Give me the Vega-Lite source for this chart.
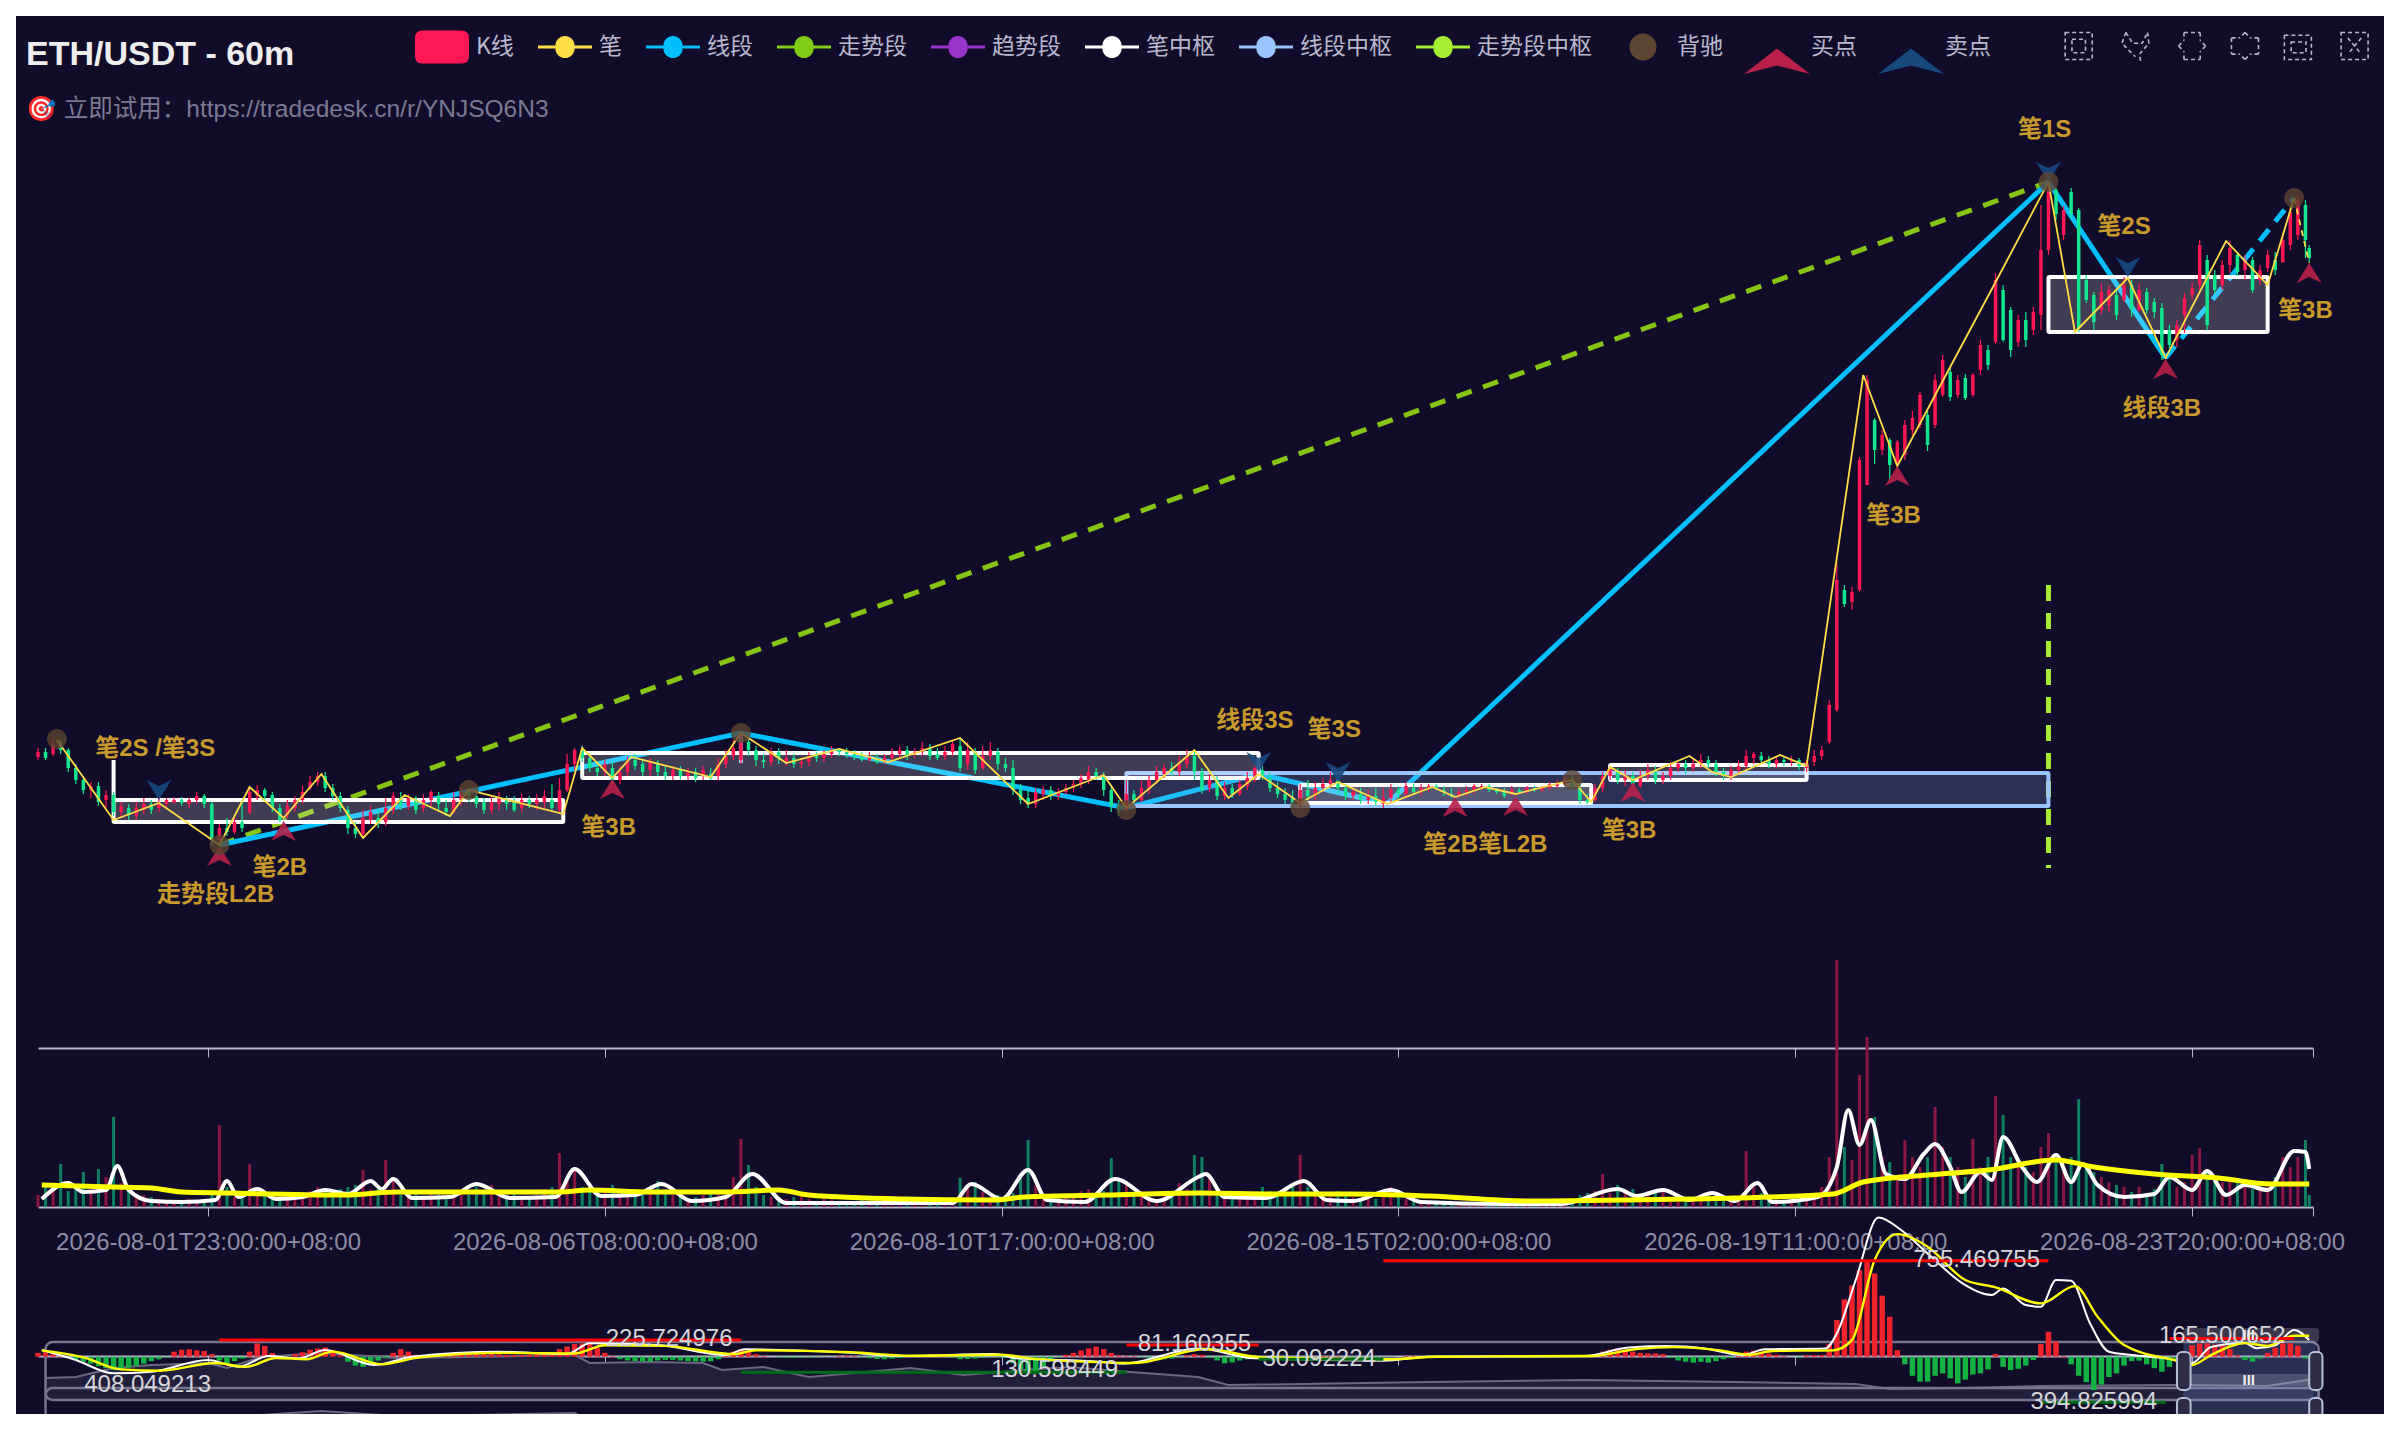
{"$schema":"https://vega.github.io/schema/vega-lite/v6.json","width":2368,"height":1398,"padding":{"left":16,"top":16,"right":16,"bottom":26},"autosize":{"type":"none"},"background":"#ffffff","view":{"fill":"#100c2a","stroke":null},"title":{"text":"ETH/USDT - 60m","subtitle":"🎯 立即试用：https://tradedesk.cn/r/YNJSQ6N3","anchor":"start","frame":"group","orient":"top","offset":-105,"dx":10,"color":"#eeeeee","fontSize":34,"fontWeight":"bold","font":"Liberation Sans","subtitleColor":"#7c7a92","subtitleFontSize":24.5,"subtitleFont":"Liberation Sans,Noto Sans CJK SC","subtitlePadding":26},
"datasets":{
"bars":[{"i":0,"o":683,"c":688,"h":692,"l":680,"v":12,"m":30},{"i":2,"o":688,"c":682,"h":692,"l":680,"v":20,"m":35},{"i":4,"o":686,"c":695,"h":701,"l":684,"v":18,"m":20},{"i":6,"o":697,"c":690,"h":701,"l":686,"v":43,"m":5},{"i":8,"o":690,"c":672,"h":692,"l":668,"v":16,"m":-10},{"i":10,"o":672,"c":660,"h":676,"l":656,"v":22,"m":-25},{"i":12,"o":660,"c":650,"h":664,"l":646,"v":35,"m":-40},{"i":14,"o":650,"c":654,"h":658,"l":642,"v":14,"m":-55},{"i":16,"o":654,"c":638,"h":658,"l":634,"v":38,"m":-75},{"i":18,"o":640,"c":645,"h":650,"l":632,"v":30,"m":-90},{"i":20,"o":645,"c":628,"h":648,"l":624,"v":90,"m":-105},{"i":22,"o":628,"c":634,"h":638,"l":622,"v":24,"m":-100},{"i":24,"o":632,"c":625,"h":636,"l":620,"v":18,"m":-85},{"i":26,"o":624,"c":632,"h":638,"l":620,"v":10,"m":-70},{"i":28,"o":630,"c":636,"h":642,"l":626,"v":12,"m":-55},{"i":30,"o":636,"c":630,"h":640,"l":626,"v":10,"m":-35},{"i":32,"o":632,"c":638,"h":644,"l":628,"v":8,"m":-20},{"i":34,"o":636,"c":640,"h":642,"l":632,"v":6,"m":-5},{"i":36,"o":638,"c":640,"h":643,"l":636,"v":7,"m":40},{"i":38,"o":640,"c":637,"h":643,"l":634,"v":6,"m":55},{"i":40,"o":636,"c":640,"h":642,"l":632,"v":8,"m":58},{"i":42,"o":640,"c":644,"h":648,"l":636,"v":7,"m":50},{"i":44,"o":644,"c":636,"h":646,"l":632,"v":8,"m":45},{"i":46,"o":636,"c":600,"h":638,"l":595,"v":12,"m":20},{"i":48,"o":600,"c":612,"h":616,"l":595,"v":82,"m":-30},{"i":50,"o":612,"c":608,"h":622,"l":604,"v":20,"m":-52},{"i":52,"o":608,"c":618,"h":624,"l":606,"v":10,"m":-35},{"i":54,"o":618,"c":612,"h":640,"l":608,"v":12,"m":-15},{"i":56,"o":628,"c":648,"h":653,"l":626,"v":43,"m":40},{"i":58,"o":644,"c":650,"h":655,"l":640,"v":20,"m":105},{"i":60,"o":650,"c":644,"h":652,"l":640,"v":14,"m":85},{"i":62,"o":645,"c":632,"h":648,"l":628,"v":12,"m":30},{"i":64,"o":632,"c":620,"h":636,"l":618,"v":8,"m":-10},{"i":66,"o":625,"c":634,"h":640,"l":622,"v":10,"m":-5},{"i":68,"o":632,"c":640,"h":644,"l":628,"v":14,"m":20},{"i":70,"o":640,"c":648,"h":654,"l":636,"v":8,"m":35},{"i":72,"o":652,"c":658,"h":664,"l":650,"v":16,"m":55},{"i":74,"o":658,"c":664,"h":668,"l":654,"v":20,"m":65},{"i":76,"o":664,"c":652,"h":668,"l":648,"v":16,"m":73},{"i":78,"o":652,"c":644,"h":656,"l":640,"v":14,"m":50},{"i":80,"o":644,"c":632,"h":648,"l":628,"v":18,"m":10},{"i":82,"o":630,"c":612,"h":634,"l":606,"v":20,"m":-40},{"i":84,"o":612,"c":606,"h":618,"l":602,"v":22,"m":-70},{"i":86,"o":606,"c":622,"h":630,"l":602,"v":37,"m":-79},{"i":88,"o":620,"c":628,"h":634,"l":616,"v":18,"m":-60},{"i":90,"o":622,"c":616,"h":630,"l":612,"v":20,"m":-30},{"i":92,"o":618,"c":632,"h":642,"l":614,"v":47,"m":-10},{"i":94,"o":630,"c":644,"h":648,"l":626,"v":30,"m":30},{"i":96,"o":642,"c":634,"h":648,"l":630,"v":12,"m":60},{"i":98,"o":634,"c":642,"h":646,"l":630,"v":14,"m":40},{"i":100,"o":640,"c":630,"h":644,"l":626,"v":16,"m":15},{"i":102,"o":632,"c":640,"h":646,"l":628,"v":10,"m":5},{"i":104,"o":640,"c":648,"h":650,"l":634,"v":14,"m":10},{"i":106,"o":644,"c":636,"h":648,"l":630,"v":12,"m":15},{"i":108,"o":632,"c":628,"h":640,"l":624,"v":10,"m":20},{"i":110,"o":628,"c":640,"h":648,"l":626,"v":14,"m":18},{"i":112,"o":640,"c":648,"h":652,"l":634,"v":18,"m":20},{"i":114,"o":648,"c":644,"h":652,"l":638,"v":12,"m":24},{"i":116,"o":644,"c":636,"h":650,"l":632,"v":20,"m":26},{"i":118,"o":638,"c":630,"h":642,"l":626,"v":16,"m":26},{"i":120,"o":630,"c":638,"h":644,"l":626,"v":22,"m":25},{"i":122,"o":636,"c":642,"h":648,"l":630,"v":10,"m":18},{"i":124,"o":640,"c":636,"h":644,"l":630,"v":12,"m":15},{"i":126,"o":638,"c":630,"h":644,"l":628,"v":14,"m":12},{"i":128,"o":632,"c":640,"h":646,"l":628,"v":8,"m":12},{"i":130,"o":640,"c":636,"h":644,"l":632,"v":10,"m":15},{"i":132,"o":636,"c":640,"h":646,"l":630,"v":12,"m":18},{"i":134,"o":638,"c":644,"h":650,"l":632,"v":18,"m":20},{"i":136,"o":640,"c":632,"h":656,"l":630,"v":20,"m":15},{"i":138,"o":630,"c":650,"h":662,"l":626,"v":54,"m":60},{"i":140,"o":650,"c":676,"h":686,"l":648,"v":28,"m":80},{"i":142,"o":676,"c":690,"h":692,"l":670,"v":40,"m":100},{"i":144,"o":690,"c":682,"h":694,"l":678,"v":20,"m":105},{"i":146,"o":682,"c":672,"h":686,"l":668,"v":24,"m":105},{"i":148,"o":672,"c":668,"h":678,"l":664,"v":18,"m":70},{"i":150,"o":668,"c":676,"h":680,"l":664,"v":16,"m":30},{"i":152,"o":672,"c":660,"h":678,"l":656,"v":22,"m":5},{"i":154,"o":660,"c":668,"h":674,"l":656,"v":10,"m":-20},{"i":156,"o":668,"c":680,"h":684,"l":664,"v":14,"m":-30},{"i":158,"o":680,"c":674,"h":686,"l":670,"v":18,"m":-35},{"i":160,"o":676,"c":668,"h":680,"l":664,"v":12,"m":-38},{"i":162,"o":670,"c":678,"h":682,"l":664,"v":14,"m":-39},{"i":164,"o":676,"c":668,"h":680,"l":664,"v":26,"m":-30},{"i":166,"o":668,"c":664,"h":674,"l":660,"v":18,"m":-25},{"i":168,"o":664,"c":670,"h":674,"l":660,"v":12,"m":-25},{"i":170,"o":670,"c":664,"h":674,"l":660,"v":10,"m":-30},{"i":172,"o":664,"c":668,"h":672,"l":660,"v":8,"m":-35},{"i":174,"o":668,"c":662,"h":672,"l":658,"v":10,"m":-38},{"i":176,"o":664,"c":670,"h":674,"l":660,"v":12,"m":-39},{"i":178,"o":666,"c":662,"h":672,"l":660,"v":14,"m":-36},{"i":180,"o":664,"c":676,"h":682,"l":660,"v":16,"m":-20},{"i":182,"o":676,"c":684,"h":690,"l":672,"v":14,"m":15},{"i":184,"o":684,"c":692,"h":700,"l":680,"v":30,"m":40},{"i":186,"o":680,"c":698,"h":707,"l":676,"v":68,"m":58},{"i":188,"o":698,"c":690,"h":702,"l":684,"v":42,"m":50},{"i":190,"o":690,"c":680,"h":694,"l":674,"v":20,"m":20},{"i":192,"o":680,"c":678,"h":686,"l":672,"v":12,"m":5},{"i":194,"o":678,"c":688,"h":692,"l":674,"v":10,"m":0},{"i":196,"o":688,"c":682,"h":692,"l":676,"v":10,"m":-5},{"i":198,"o":678,"c":682,"h":690,"l":674,"v":8,"m":-8},{"i":200,"o":682,"c":676,"h":686,"l":672,"v":10,"m":-10},{"i":202,"o":676,"c":678,"h":682,"l":672,"v":12,"m":-8},{"i":204,"o":678,"c":684,"h":688,"l":674,"v":8,"m":-6},{"i":206,"o":684,"c":682,"h":688,"l":678,"v":6,"m":-5},{"i":208,"o":682,"c":686,"h":690,"l":678,"v":8,"m":-3},{"i":210,"o":686,"c":690,"h":694,"l":682,"v":8,"m":-2},{"i":212,"o":690,"c":688,"h":692,"l":684,"v":6,"m":5},{"i":214,"o":688,"c":686,"h":692,"l":682,"v":6,"m":8},{"i":216,"o":686,"c":684,"h":690,"l":680,"v":6,"m":5},{"i":218,"o":684,"c":680,"h":688,"l":678,"v":8,"m":-5},{"i":220,"o":680,"c":684,"h":688,"l":678,"v":6,"m":-12},{"i":222,"o":682,"c":678,"h":686,"l":676,"v":6,"m":-18},{"i":224,"o":678,"c":682,"h":686,"l":676,"v":6,"m":-20},{"i":226,"o":682,"c":686,"h":692,"l":678,"v":8,"m":-15},{"i":228,"o":686,"c":690,"h":694,"l":682,"v":8,"m":-10},{"i":230,"o":690,"c":684,"h":694,"l":680,"v":10,"m":5},{"i":232,"o":686,"c":688,"h":692,"l":682,"v":6,"m":10},{"i":234,"o":688,"c":692,"h":698,"l":684,"v":8,"m":12},{"i":236,"o":692,"c":684,"h":696,"l":680,"v":6,"m":10},{"i":238,"o":686,"c":682,"h":692,"l":680,"v":8,"m":8},{"i":240,"o":684,"c":688,"h":694,"l":680,"v":8,"m":5},{"i":242,"o":688,"c":696,"h":700,"l":684,"v":10,"m":-5},{"i":244,"o":694,"c":672,"h":702,"l":668,"v":29,"m":-20},{"i":246,"o":676,"c":690,"h":698,"l":670,"v":20,"m":-18},{"i":248,"o":688,"c":670,"h":692,"l":666,"v":25,"m":-15},{"i":250,"o":672,"c":684,"h":694,"l":670,"v":15,"m":-8},{"i":252,"o":684,"c":690,"h":698,"l":680,"v":10,"m":-5},{"i":254,"o":688,"c":676,"h":692,"l":670,"v":12,"m":-5},{"i":256,"o":676,"c":672,"h":682,"l":668,"v":10,"m":-10},{"i":258,"o":672,"c":650,"h":680,"l":645,"v":14,"m":-50},{"i":260,"o":650,"c":640,"h":656,"l":636,"v":30,"m":-100},{"i":262,"o":642,"c":636,"h":650,"l":632,"v":67,"m":-131},{"i":264,"o":636,"c":648,"h":652,"l":632,"v":22,"m":-120},{"i":266,"o":646,"c":650,"h":654,"l":640,"v":12,"m":-80},{"i":268,"o":650,"c":644,"h":654,"l":640,"v":8,"m":-40},{"i":270,"o":644,"c":648,"h":652,"l":640,"v":10,"m":-5},{"i":272,"o":648,"c":652,"h":656,"l":646,"v":14,"m":15},{"i":274,"o":652,"c":656,"h":660,"l":648,"v":12,"m":30},{"i":276,"o":656,"c":662,"h":666,"l":652,"v":16,"m":50},{"i":278,"o":660,"c":668,"h":674,"l":656,"v":18,"m":65},{"i":280,"o":668,"c":664,"h":672,"l":660,"v":14,"m":79},{"i":282,"o":664,"c":650,"h":668,"l":644,"v":16,"m":60},{"i":284,"o":650,"c":634,"h":654,"l":628,"v":49,"m":30},{"i":286,"o":634,"c":630,"h":640,"l":624,"v":28,"m":10},{"i":288,"o":630,"c":646,"h":660,"l":628,"v":24,"m":5},{"i":290,"o":646,"c":640,"h":650,"l":636,"v":14,"m":5},{"i":292,"o":640,"c":652,"h":660,"l":638,"v":16,"m":-5},{"i":294,"o":650,"c":660,"h":664,"l":646,"v":10,"m":-10},{"i":296,"o":660,"c":668,"h":674,"l":656,"v":8,"m":-15},{"i":298,"o":666,"c":672,"h":676,"l":662,"v":12,"m":-20},{"i":300,"o":672,"c":668,"h":678,"l":664,"v":14,"m":-15},{"i":302,"o":668,"c":676,"h":684,"l":664,"v":24,"m":-5},{"i":304,"o":676,"c":684,"h":690,"l":672,"v":18,"m":10},{"i":306,"o":684,"c":668,"h":690,"l":660,"v":52,"m":20},{"i":308,"o":668,"c":650,"h":672,"l":646,"v":50,"m":15},{"i":310,"o":652,"c":660,"h":666,"l":648,"v":30,"m":-10},{"i":312,"o":660,"c":644,"h":664,"l":640,"v":14,"m":-30},{"i":314,"o":644,"c":652,"h":658,"l":640,"v":10,"m":-52},{"i":316,"o":652,"c":646,"h":656,"l":642,"v":8,"m":-45},{"i":318,"o":646,"c":656,"h":660,"l":644,"v":10,"m":-30},{"i":320,"o":654,"c":662,"h":668,"l":650,"v":12,"m":-20},{"i":322,"o":662,"c":672,"h":676,"l":658,"v":14,"m":-10},{"i":324,"o":670,"c":664,"h":674,"l":660,"v":20,"m":-8},{"i":326,"o":662,"c":652,"h":668,"l":648,"v":16,"m":-8},{"i":328,"o":652,"c":646,"h":658,"l":642,"v":14,"m":-8},{"i":330,"o":646,"c":640,"h":652,"l":636,"v":12,"m":-6},{"i":332,"o":642,"c":636,"h":650,"l":632,"v":20,"m":-3},{"i":334,"o":636,"c":650,"h":656,"l":632,"v":52,"m":-3},{"i":336,"o":650,"c":644,"h":660,"l":640,"v":20,"m":-2},{"i":338,"o":644,"c":652,"h":658,"l":640,"v":12,"m":0},{"i":340,"o":652,"c":656,"h":662,"l":648,"v":10,"m":5},{"i":342,"o":656,"c":660,"h":668,"l":652,"v":10,"m":5},{"i":344,"o":660,"c":652,"h":664,"l":646,"v":16,"m":3},{"i":346,"o":652,"c":644,"h":656,"l":640,"v":12,"m":-5},{"i":348,"o":644,"c":648,"h":652,"l":640,"v":10,"m":-8},{"i":350,"o":646,"c":640,"h":652,"l":636,"v":8,"m":-8},{"i":352,"o":640,"c":644,"h":650,"l":636,"v":10,"m":-8},{"i":354,"o":644,"c":638,"h":652,"l":634,"v":8,"m":-6},{"i":356,"o":636,"c":642,"h":652,"l":632,"v":14,"m":-4},{"i":358,"o":642,"c":650,"h":656,"l":638,"v":20,"m":-3},{"i":360,"o":650,"c":646,"h":654,"l":642,"v":12,"m":0},{"i":362,"o":646,"c":654,"h":658,"l":642,"v":8,"m":5},{"i":364,"o":652,"c":648,"h":656,"l":646,"v":8,"m":6},{"i":366,"o":648,"c":652,"h":656,"l":644,"v":6,"m":6},{"i":368,"o":652,"c":654,"h":656,"l":648,"v":4,"m":5},{"i":370,"o":654,"c":652,"h":656,"l":650,"v":4,"m":4},{"i":372,"o":650,"c":648,"h":654,"l":644,"v":4,"m":4},{"i":374,"o":646,"c":644,"h":652,"l":642,"v":6,"m":3},{"i":376,"o":644,"c":648,"h":652,"l":642,"v":4,"m":3},{"i":378,"o":648,"c":650,"h":654,"l":644,"v":4,"m":2},{"i":380,"o":650,"c":654,"h":656,"l":646,"v":4,"m":2},{"i":382,"o":652,"c":654,"h":656,"l":650,"v":6,"m":2},{"i":384,"o":654,"c":650,"h":656,"l":648,"v":4,"m":-2},{"i":386,"o":650,"c":648,"h":652,"l":646,"v":4,"m":-3},{"i":388,"o":648,"c":644,"h":652,"l":642,"v":6,"m":-3},{"i":390,"o":646,"c":650,"h":654,"l":644,"v":4,"m":-3},{"i":392,"o":650,"c":648,"h":652,"l":646,"v":4,"m":-3},{"i":394,"o":648,"c":652,"h":654,"l":646,"v":4,"m":-2},{"i":396,"o":652,"c":650,"h":654,"l":648,"v":6,"m":0},{"i":398,"o":650,"c":652,"h":654,"l":648,"v":4,"m":2},{"i":400,"o":652,"c":656,"h":658,"l":650,"v":6,"m":5},{"i":402,"o":654,"c":656,"h":660,"l":652,"v":4,"m":8},{"i":404,"o":656,"c":660,"h":664,"l":654,"v":6,"m":10},{"i":406,"o":660,"c":652,"h":664,"l":650,"v":8,"m":8},{"i":408,"o":652,"c":640,"h":656,"l":636,"v":12,"m":5},{"i":410,"o":640,"c":638,"h":646,"l":636,"v":14,"m":5},{"i":412,"o":640,"c":652,"h":656,"l":638,"v":16,"m":20},{"i":414,"o":652,"c":664,"h":668,"l":648,"v":33,"m":40},{"i":416,"o":664,"c":672,"h":674,"l":660,"v":14,"m":55},{"i":418,"o":668,"c":660,"h":672,"l":656,"v":22,"m":65},{"i":420,"o":660,"c":664,"h":670,"l":654,"v":16,"m":50},{"i":422,"o":664,"c":656,"h":668,"l":652,"v":18,"m":40},{"i":424,"o":654,"c":664,"h":670,"l":652,"v":10,"m":30},{"i":426,"o":664,"c":670,"h":676,"l":660,"v":16,"m":26},{"i":428,"o":668,"c":660,"h":674,"l":656,"v":14,"m":26},{"i":430,"o":660,"c":664,"h":668,"l":656,"v":18,"m":20},{"i":432,"o":664,"c":672,"h":678,"l":660,"v":10,"m":-10},{"i":434,"o":672,"c":676,"h":680,"l":668,"v":12,"m":-30},{"i":436,"o":676,"c":672,"h":680,"l":666,"v":8,"m":-40},{"i":438,"o":672,"c":676,"h":682,"l":668,"v":8,"m":-47},{"i":440,"o":676,"c":680,"h":686,"l":672,"v":10,"m":-40},{"i":442,"o":680,"c":676,"h":684,"l":672,"v":14,"m":-47},{"i":444,"o":676,"c":668,"h":680,"l":664,"v":12,"m":-35},{"i":446,"o":668,"c":664,"h":672,"l":660,"v":8,"m":-20},{"i":448,"o":664,"c":670,"h":674,"l":660,"v":8,"m":-10},{"i":450,"o":670,"c":674,"h":680,"l":666,"v":8,"m":10},{"i":452,"o":674,"c":684,"h":690,"l":670,"v":56,"m":40},{"i":454,"o":682,"c":686,"h":688,"l":676,"v":20,"m":47},{"i":456,"o":684,"c":680,"h":688,"l":676,"v":14,"m":40},{"i":458,"o":680,"c":676,"h":684,"l":672,"v":8,"m":25},{"i":460,"o":676,"c":680,"h":684,"l":672,"v":6,"m":15},{"i":462,"o":680,"c":678,"h":684,"l":674,"v":6,"m":5},{"i":464,"o":678,"c":680,"h":684,"l":674,"v":8,"m":0},{"i":466,"o":680,"c":674,"h":682,"l":670,"v":8,"m":-8},{"i":468,"o":672,"c":678,"h":680,"l":668,"v":12,"m":10},{"i":470,"o":678,"c":684,"h":690,"l":674,"v":14,"m":13},{"i":472,"o":684,"c":690,"h":694,"l":680,"v":20,"m":13},{"i":474,"o":698,"c":735,"h":740,"l":696,"v":50,"m":100},{"i":476,"o":730,"c":860,"h":878,"l":728,"v":247,"m":288},{"i":478,"o":850,"c":836,"h":855,"l":833,"v":60,"m":450},{"i":480,"o":838,"c":848,"h":853,"l":830,"v":47,"m":560},{"i":482,"o":850,"c":980,"h":983,"l":848,"v":132,"m":680},{"i":484,"o":955,"c":1060,"h":1065,"l":955,"v":170,"m":760},{"i":486,"o":1020,"c":990,"h":1022,"l":976,"v":90,"m":655},{"i":488,"o":990,"c":1005,"h":1010,"l":985,"v":50,"m":480},{"i":490,"o":1000,"c":975,"h":1002,"l":961,"v":45,"m":314},{"i":492,"o":978,"c":998,"h":1000,"l":974,"v":30,"m":52},{"i":494,"o":985,"c":1015,"h":1020,"l":980,"v":67,"m":-60},{"i":496,"o":1010,"c":1022,"h":1029,"l":1005,"v":50,"m":-150},{"i":498,"o":1015,"c":1045,"h":1048,"l":1012,"v":40,"m":-196},{"i":500,"o":1025,"c":995,"h":1029,"l":989,"v":50,"m":-196},{"i":502,"o":1015,"c":1060,"h":1066,"l":1012,"v":100,"m":-150},{"i":504,"o":1045,"c":1080,"h":1085,"l":1043,"v":60,"m":-131},{"i":506,"o":1068,"c":1043,"h":1073,"l":1039,"v":50,"m":-170},{"i":508,"o":1045,"c":1060,"h":1065,"l":1042,"v":40,"m":-210},{"i":510,"o":1062,"c":1042,"h":1066,"l":1040,"v":30,"m":-180},{"i":512,"o":1045,"c":1065,"h":1067,"l":1043,"v":68,"m":-140},{"i":514,"o":1070,"c":1095,"h":1100,"l":1065,"v":40,"m":-131},{"i":516,"o":1090,"c":1075,"h":1095,"l":1070,"v":50,"m":-100},{"i":518,"o":1098,"c":1160,"h":1167,"l":1096,"v":111,"m":21},{"i":520,"o":1150,"c":1100,"h":1155,"l":1098,"v":92,"m":-80},{"i":522,"o":1130,"c":1090,"h":1133,"l":1083,"v":50,"m":-105},{"i":524,"o":1098,"c":1120,"h":1125,"l":1093,"v":45,"m":-95},{"i":526,"o":1120,"c":1100,"h":1128,"l":1093,"v":40,"m":-70},{"i":528,"o":1110,"c":1128,"h":1133,"l":1105,"v":35,"m":-26},{"i":530,"o":1125,"c":1190,"h":1235,"l":1110,"v":60,"m":100},{"i":532,"o":1190,"c":1250,"h":1258,"l":1185,"v":74,"m":196},{"i":534,"o":1250,"c":1226,"h":1252,"l":1220,"v":45,"m":120},{"i":536,"o":1205,"c":1230,"h":1234,"l":1200,"v":40,"m":5},{"i":538,"o":1248,"c":1226,"h":1252,"l":1222,"v":50,"m":-60},{"i":540,"o":1230,"c":1112,"h":1232,"l":1108,"v":108,"m":-150},{"i":542,"o":1160,"c":1140,"h":1165,"l":1137,"v":40,"m":-200},{"i":544,"o":1145,"c":1118,"h":1148,"l":1110,"v":35,"m":-262},{"i":546,"o":1130,"c":1148,"h":1157,"l":1126,"v":30,"m":-220},{"i":548,"o":1135,"c":1150,"h":1155,"l":1128,"v":25,"m":-160},{"i":550,"o":1145,"c":1125,"h":1150,"l":1120,"v":22,"m":-131},{"i":552,"o":1140,"c":1155,"h":1163,"l":1138,"v":20,"m":-70},{"i":554,"o":1155,"c":1130,"h":1160,"l":1123,"v":15,"m":-35},{"i":556,"o":1130,"c":1150,"h":1157,"l":1128,"v":20,"m":-31},{"i":558,"o":1148,"c":1130,"h":1152,"l":1126,"v":14,"m":-60},{"i":560,"o":1138,"c":1128,"h":1142,"l":1122,"v":18,"m":-90},{"i":562,"o":1132,"c":1085,"h":1137,"l":1080,"v":43,"m":-118},{"i":564,"o":1110,"c":1095,"h":1115,"l":1092,"v":30,"m":-80},{"i":566,"o":1100,"c":1115,"h":1120,"l":1093,"v":20,"m":-20},{"i":568,"o":1125,"c":1142,"h":1147,"l":1107,"v":25,"m":10},{"i":570,"o":1145,"c":1152,"h":1158,"l":1140,"v":52,"m":90},{"i":572,"o":1155,"c":1195,"h":1200,"l":1150,"v":59,"m":105},{"i":574,"o":1180,"c":1115,"h":1185,"l":1110,"v":35,"m":105},{"i":576,"o":1165,"c":1150,"h":1170,"l":1146,"v":30,"m":95},{"i":578,"o":1155,"c":1175,"h":1180,"l":1150,"v":25,"m":85},{"i":580,"o":1175,"c":1192,"h":1199,"l":1167,"v":30,"m":60},{"i":582,"o":1185,"c":1168,"h":1188,"l":1164,"v":25,"m":10},{"i":584,"o":1170,"c":1180,"h":1185,"l":1160,"v":20,"m":-25},{"i":586,"o":1180,"c":1150,"h":1183,"l":1147,"v":18,"m":-39},{"i":588,"o":1160,"c":1170,"h":1175,"l":1155,"v":20,"m":-15},{"i":590,"o":1172,"c":1185,"h":1190,"l":1168,"v":25,"m":30},{"i":592,"o":1180,"c":1170,"h":1188,"l":1165,"v":30,"m":70},{"i":594,"o":1178,"c":1200,"h":1207,"l":1177,"v":50,"m":105},{"i":596,"o":1195,"c":1228,"h":1232,"l":1190,"v":40,"m":105},{"i":598,"o":1205,"c":1240,"h":1245,"l":1200,"v":50,"m":85},{"i":600,"o":1235,"c":1200,"h":1240,"l":1182,"v":67,"m":-15},{"i":601,"o":1192,"c":1182,"h":1195,"l":1178,"v":12,"m":-10}],
"bi":[{"i":5,"p":700},{"i":20,"p":620},{"i":32,"p":637},{"i":48,"p":595},{"i":56,"p":653},{"i":65,"p":622},{"i":75,"p":666},{"i":86,"p":602},{"i":97,"p":645},{"i":109,"p":624},{"i":114,"p":650},{"i":139,"p":626},{"i":144,"p":692},{"i":152,"p":662},{"i":157,"p":683},{"i":178,"p":663},{"i":186,"p":707},{"i":198,"p":677},{"i":212,"p":691},{"i":225,"p":678},{"i":244,"p":702},{"i":262,"p":636},{"i":282,"p":665},{"i":288,"p":632},{"i":306,"p":690},{"i":315,"p":642},{"i":323,"p":666},{"i":334,"p":637},{"i":344,"p":658},{"i":357,"p":636},{"i":369,"p":653},{"i":375,"p":643},{"i":383,"p":653},{"i":391,"p":646},{"i":406,"p":660},{"i":411,"p":638},{"i":416,"p":673},{"i":422,"p":660},{"i":437,"p":684},{"i":443,"p":668},{"i":448,"p":663},{"i":461,"p":685},{"i":468,"p":674},{"i":483,"p":1065},{"i":492,"p":974},{"i":519,"p":1165},{"i":532,"p":1258},{"i":539,"p":1108},{"i":553,"p":1162},{"i":563,"p":1082},{"i":579,"p":1199},{"i":590,"p":1155},{"i":597,"p":1242}],
"biEnd":[{"i":597,"p":1242},{"i":601,"p":1177}],
"seg":[{"i":48,"p":595},{"i":186,"p":707},{"i":288,"p":632},{"i":323,"p":666},{"i":357,"p":636},{"i":532,"p":1258},{"i":563,"p":1082}],
"segEnd":[{"i":563,"p":1082},{"i":597,"p":1242}],
"trend":[{"i":48,"p":595},{"i":532,"p":1258}],
"trendHub":[{"i":532,"p":855},{"i":532,"p":572}],
"biHub":[{"i":20,"j":139,"p0":618,"p1":640},{"i":20,"j":20,"p0":640,"p1":680},{"i":144,"j":323,"p0":662,"p1":687},{"i":334,"j":411,"p0":637,"p1":655},{"i":416,"j":468,"p0":660,"p1":675},{"i":532,"j":590,"p0":1108,"p1":1163}],
"segHub":[{"i":288,"j":532,"p0":634,"p1":667},{"i":186,"j":186,"p0":677,"p1":707},{"i":323,"j":323,"p0":668,"p1":685}],
"div":[{"i":5,"p":701,"series":"背驰"},{"i":48,"p":595,"series":"背驰"},{"i":114,"p":650,"series":"背驰"},{"i":186,"p":707,"series":"背驰"},{"i":288,"p":630,"series":"背驰"},{"i":334,"p":632,"series":"背驰"},{"i":406,"p":660,"series":"背驰"},{"i":532,"p":1258,"series":"背驰"},{"i":597,"p":1242,"series":"背驰"}],
"buy":[{"i":48,"p":594},{"i":65,"p":619},{"i":152,"p":661},{"i":375,"p":643},{"i":391,"p":644},{"i":422,"p":658},{"i":492,"p":974},{"i":563,"p":1081},{"i":601,"p":1177}],
"sell":[{"i":32,"p":640},{"i":323,"p":668},{"i":344,"p":658},{"i":532,"p":1258},{"i":553,"p":1163}],
"marks":[{"i":31,"p":691,"t":"笔2S /笔3S"},{"i":64,"p":572,"t":"笔2B"},{"i":47,"p":545,"t":"走势段L2B"},{"i":151,"p":612,"t":"笔3B"},{"i":322,"p":719,"t":"线段3S"},{"i":343,"p":710,"t":"笔3S"},{"i":383,"p":595,"t":"笔2B笔L2B"},{"i":421,"p":609,"t":"笔3B"},{"i":491,"p":924,"t":"笔3B"},{"i":531,"p":1310,"t":"笔1S"},{"i":552,"p":1213,"t":"笔2S"},{"i":562,"p":1031,"t":"线段3B"},{"i":600,"p":1129,"t":"笔3B"}],
"tools":[{"i":540,"p":1394,"tool":"区域缩放"},{"i":555,"p":1394,"tool":"套索"},{"i":570,"p":1394,"tool":"横向选择"},{"i":584,"p":1394,"tool":"纵向选择"},{"i":598,"p":1394,"tool":"保持选择"},{"i":613,"p":1394,"tool":"清除"}],
"ma5":[{"i":1,"a":8},{"i":8,"a":24},{"i":12,"a":15},{"i":18,"a":17},{"i":21,"a":41},{"i":24,"a":17},{"i":30,"a":6},{"i":38,"a":5},{"i":47,"a":7},{"i":50,"a":26},{"i":53,"a":10},{"i":58,"a":18},{"i":63,"a":8},{"i":70,"a":10},{"i":76,"a":17},{"i":82,"a":13},{"i":88,"a":26},{"i":91,"a":18},{"i":94,"a":28},{"i":99,"a":9},{"i":109,"a":10},{"i":116,"a":23},{"i":125,"a":9},{"i":137,"a":10},{"i":142,"a":38},{"i":149,"a":11},{"i":158,"a":12},{"i":165,"a":23},{"i":173,"a":6},{"i":182,"a":10},{"i":189,"a":33},{"i":198,"a":4},{"i":213,"a":4},{"i":229,"a":4},{"i":242,"a":4},{"i":247,"a":23},{"i":255,"a":8},{"i":262,"a":37},{"i":267,"a":7},{"i":277,"a":5},{"i":285,"a":28},{"i":296,"a":6},{"i":307,"a":30},{"i":309,"a":33},{"i":314,"a":10},{"i":325,"a":9},{"i":335,"a":26},{"i":341,"a":7},{"i":348,"a":6},{"i":358,"a":17},{"i":366,"a":5},{"i":388,"a":3},{"i":403,"a":3},{"i":418,"a":18},{"i":423,"a":11},{"i":430,"a":17},{"i":437,"a":7},{"i":443,"a":14},{"i":449,"a":6},{"i":455,"a":24},{"i":459,"a":5},{"i":471,"a":10},{"i":476,"a":40},{"i":479,"a":97},{"i":482,"a":62},{"i":485,"a":87},{"i":489,"a":33},{"i":494,"a":28},{"i":499,"a":53},{"i":502,"a":63},{"i":506,"a":40},{"i":509,"a":15},{"i":514,"a":35},{"i":517,"a":27},{"i":520,"a":70},{"i":525,"a":40},{"i":529,"a":25},{"i":534,"a":52},{"i":538,"a":25},{"i":541,"a":43},{"i":545,"a":22},{"i":552,"a":10},{"i":560,"a":13},{"i":564,"a":30},{"i":570,"a":17},{"i":574,"a":36},{"i":579,"a":12},{"i":584,"a":22},{"i":590,"a":17},{"i":597,"a":56},{"i":600,"a":55},{"i":601,"a":38}],
"ma60":[{"i":1,"b":22},{"i":20,"b":20},{"i":30,"b":19},{"i":38,"b":15},{"i":50,"b":14},{"i":81,"b":12},{"i":95,"b":15},{"i":120,"b":15},{"i":138,"b":15},{"i":146,"b":17},{"i":162,"b":15},{"i":182,"b":15},{"i":196,"b":17},{"i":204,"b":12},{"i":229,"b":8},{"i":253,"b":7},{"i":261,"b":10},{"i":283,"b":12},{"i":307,"b":14},{"i":328,"b":13},{"i":348,"b":13},{"i":368,"b":11},{"i":394,"b":6},{"i":419,"b":7},{"i":449,"b":9},{"i":475,"b":13},{"i":483,"b":25},{"i":500,"b":32},{"i":516,"b":37},{"i":534,"b":47},{"i":544,"b":40},{"i":560,"b":33},{"i":577,"b":29},{"i":591,"b":23},{"i":601,"b":23}],
"dif":[{"i":1,"d":52},{"i":10,"d":-26},{"i":20,"d":-131},{"i":30,"d":-118},{"i":45,"d":-26},{"i":53,"d":-79},{"i":61,"d":5},{"i":69,"d":-13},{"i":76,"d":52},{"i":89,"d":-65},{"i":99,"d":0},{"i":122,"d":39},{"i":140,"d":21},{"i":146,"d":105},{"i":164,"d":92},{"i":182,"d":13},{"i":187,"d":58},{"i":213,"d":34},{"i":229,"d":5},{"i":253,"d":21},{"i":259,"d":-13},{"i":281,"d":-39},{"i":287,"d":-55},{"i":307,"d":65},{"i":322,"d":-13},{"i":356,"d":-31},{"i":368,"d":0},{"i":409,"d":5},{"i":421,"d":73},{"i":431,"d":84},{"i":441,"d":65},{"i":451,"d":13},{"i":457,"d":58},{"i":473,"d":65},{"i":476,"d":183},{"i":481,"d":603},{"i":487,"d":1095},{"i":493,"d":996},{"i":500,"d":812},{"i":510,"d":563},{"i":517,"d":485},{"i":520,"d":537},{"i":526,"d":406},{"i":530,"d":393},{"i":534,"d":603},{"i":538,"d":597},{"i":543,"d":262},{"i":548,"d":39},{"i":554,"d":13},{"i":563,"d":-13},{"i":570,"d":-50},{"i":575,"d":76},{"i":584,"d":107},{"i":587,"d":67},{"i":592,"d":90},{"i":597,"d":210},{"i":601,"d":131}],
"dea":[{"i":1,"e":50},{"i":12,"e":-5},{"i":22,"e":-100},{"i":32,"e":-110},{"i":47,"e":-50},{"i":55,"e":-80},{"i":63,"e":-10},{"i":71,"e":-20},{"i":78,"e":40},{"i":91,"e":-60},{"i":101,"e":-5},{"i":124,"e":30},{"i":142,"e":25},{"i":150,"e":90},{"i":166,"e":85},{"i":184,"e":20},{"i":190,"e":50},{"i":215,"e":35},{"i":231,"e":8},{"i":255,"e":15},{"i":263,"e":-15},{"i":283,"e":-45},{"i":290,"e":-50},{"i":309,"e":60},{"i":324,"e":-5},{"i":358,"e":-20},{"i":370,"e":0},{"i":411,"e":5},{"i":423,"e":60},{"i":433,"e":75},{"i":445,"e":50},{"i":453,"e":15},{"i":459,"e":45},{"i":475,"e":50},{"i":480,"e":130},{"i":486,"e":760},{"i":492,"e":964},{"i":500,"e":865},{"i":510,"e":603},{"i":518,"e":545},{"i":530,"e":419},{"i":539,"e":555},{"i":545,"e":314},{"i":552,"e":92},{"i":567,"e":-39},{"i":570,"e":-65},{"i":575,"e":13},{"i":584,"e":107},{"i":590,"e":85},{"i":597,"e":165},{"i":601,"e":165}],
"lines":[{"i":356,"j":532,"m":755,"k":"r"},{"i":48,"j":186,"m":131,"k":"r"},{"i":288,"j":323,"m":92,"k":"r"},{"i":564,"j":597,"m":144,"k":"r"},{"i":186,"j":288,"m":-123,"k":"g"},{"i":323,"j":356,"m":-21,"k":"g"},{"i":530,"j":563,"m":-359,"k":"g"}],
"vals":[{"i":29,"m":-223,"t":"408.049213"},{"i":167,"m":137,"t":"225.724976"},{"i":269,"m":-104,"t":"130.598449"},{"i":306,"m":100,"t":"81.160355"},{"i":339,"m":-18,"t":"30.092224"},{"i":513,"m":762,"t":"755.469755"},{"i":578,"m":162,"t":"165.500652"},{"i":544,"m":-356,"t":"394.825994"}],
"shadow":[{"i":2,"s":62,"u":4},{"i":10,"s":63,"u":5},{"i":20,"s":72,"u":14},{"i":30,"s":75,"u":17},{"i":45,"s":77,"u":19},{"i":50,"s":72,"u":14},{"i":59,"s":83,"u":25},{"i":75,"s":87,"u":29},{"i":95,"s":82,"u":24},{"i":115,"s":83,"u":25},{"i":142,"s":85,"u":27},{"i":146,"s":77,"u":19},{"i":162,"s":78,"u":20},{"i":176,"s":77,"u":19},{"i":181,"s":70,"u":12},{"i":192,"s":73,"u":15},{"i":204,"s":63,"u":5},{"i":231,"s":72,"u":14},{"i":245,"s":65,"u":7},{"i":261,"s":70,"u":12},{"i":273,"s":73,"u":15},{"i":289,"s":68,"u":10},{"i":307,"s":63,"u":5},{"i":315,"s":55,"u":-3},{"i":368,"s":58,"u":0},{"i":409,"s":60,"u":2},{"i":449,"s":58,"u":0},{"i":481,"s":56,"u":-2},{"i":490,"s":51,"u":-7},{"i":510,"s":52,"u":-6},{"i":530,"s":54,"u":-4},{"i":564,"s":55,"u":-3},{"i":590,"s":54,"u":-4},{"i":602,"s":61,"u":3}],
"frames":[{"i":2,"j":603.5,"s0":40,"s1":98},{"i":2,"j":603.5,"s0":-6,"s1":52}],
"windows":[{"i":567.7,"j":602.8,"s0":40,"s1":98},{"i":567.7,"j":602.8,"s0":-30,"s1":40}],
"tabs":[{"i":567.7,"j":603.6,"s0":98,"s1":112},{"i":567.7,"j":602.8,"s0":54,"s1":66}],
"handles":[{"i":566,"j":569.6,"s0":50,"s1":88},{"i":601,"j":604.5,"s0":50,"s1":88},{"i":566,"j":569.6,"s0":-6,"s1":42},{"i":601,"j":604.5,"s0":-6,"s1":42}],
"grips":[{"i":585,"s":60,"t":"III"},{"i":585,"s":105,"t":"III"}]
},
"encoding":{"x":{"field":"i","type":"quantitative","scale":{"domain":[0,602],"range":[22,2297],"padding":0,"nice":false,"zero":false},"axis":null}},
"resolve":{"scale":{"y":"independent"},"axis":{"x":"independent"}},
"layer":[
{"encoding":{"x":{"field":"i","type":"quantitative","scale":{"domain":[0,602],"range":[22,2297],"padding":0,"nice":false,"zero":false},"axis":{"orient":"bottom","offset":-366,"labels":false,"title":null,"values":[45,150,255,360,465,570,602],"domainColor":"#B9B8CE","domainWidth":2,"tickColor":"#B9B8CE","tickSize":9,"grid":false}},"y":{"field":"p","type":"quantitative","axis":null,"scale":{"domain":[400,1400],"range":[1024,24],"nice":false,"zero":false}}},
"layer":[
{"data":{"name":"trend"},"mark":{"type":"line","stroke":"#86c512","strokeWidth":5,"strokeDash":[16,12]}},
{"data":{"name":"seg"},"mark":{"type":"line","stroke":"#00bfff","strokeWidth":5}},
{"data":{"name":"segEnd"},"mark":{"type":"line","stroke":"#00bfff","strokeWidth":5,"strokeDash":[15,10]}},
{"data":{"name":"trendHub"},"mark":{"type":"line","stroke":"#a5ee32","strokeWidth":5,"strokeDash":[16,12]}},
{"data":{"name":"segHub"},"mark":{"type":"rect","fill":"#99c5ff","fillOpacity":0.2,"stroke":"#99c5ff","strokeWidth":4,"cornerRadius":1},"encoding":{"x2":{"field":"j"},"y":{"field":"p0","type":"quantitative"},"y2":{"field":"p1"}}},
{"data":{"name":"biHub"},"mark":{"type":"rect","fill":"#ffffff","fillOpacity":0.2,"stroke":"#ffffff","strokeWidth":4,"cornerRadius":1},"encoding":{"x2":{"field":"j"},"y":{"field":"p0","type":"quantitative"},"y2":{"field":"p1"}}},
{"data":{"name":"bars"},"mark":{"type":"rule","strokeWidth":1.2},"encoding":{"y":{"field":"l","type":"quantitative"},"y2":{"field":"h"},"stroke":{"condition":{"test":"datum.c>=datum.o","value":"#ff1654"},"value":"#12e78f"}}},
{"data":{"name":"bars"},"mark":{"type":"rule","strokeWidth":3.5},"encoding":{"y":{"field":"o","type":"quantitative"},"y2":{"field":"c"},"stroke":{"condition":{"test":"datum.c>=datum.o","value":"#ff1654"},"value":"#12e78f"}}},
{"data":{"name":"bi"},"mark":{"type":"line","stroke":"#ffdd44","strokeWidth":1.8}},
{"data":{"name":"biEnd"},"mark":{"type":"line","stroke":"#ffdd44","strokeWidth":1.8,"strokeDash":[6,5]}},
{"data":{"name":"buy"},"mark":{"type":"point","filled":true,"fill":"#b8204a","strokeWidth":0,"opacity":0.9,"size":400,"shape":"M0,0L1.25,2L0,1.4L-1.25,2Z"}},
{"data":{"name":"sell"},"mark":{"type":"point","filled":true,"fill":"#17497f","strokeWidth":0,"opacity":0.9,"size":400,"shape":"M0,0L1.25,-2L0,-1.4L-1.25,-2Z"}},
{"data":{"name":"div"},"mark":{"type":"point","filled":true,"strokeWidth":0,"opacity":0.8,"size":1936},"encoding":{"color":{"field":"series","type":"nominal","scale":{"domain":["K线","笔","线段","走势段","趋势段","笔中枢","线段中枢","走势段中枢","背驰","买点","卖点"],"range":["#ff1654","#ffdd44","#00bfff","#80cc14","#9933cc","#ffffff","#99c5ff","#a5ee32","#5c4430","#b8204a","#17497f"]},"legend":{"orient":"none","legendX":396,"legendY":1,"direction":"horizontal","columns":11,"title":null,"symbolSize":3600,"symbolStrokeWidth":0,"symbolOpacity":1,"labelColor":"#B9B8CE","labelFontSize":23,"labelFont":"Noto Sans CJK SC","gridAlign":"none","columnPadding":21,"labelOffset":4,"encode":{"symbols":{"update":{"opacity":{"value":1},"fillOpacity":{"value":1}}}}}},"shape":{"field":"series","type":"nominal","scale":{"domain":["K线","笔","线段","走势段","趋势段","笔中枢","线段中枢","走势段中枢","背驰","买点","卖点"],"range":["M-.9,-.3Q-.9,-.55 -.65,-.55L.65,-.55Q.9,-.55 .9,-.3L.9,.3Q.9,.55 .65,.55L-.65,.55Q-.9,.55 -.9,.3Z","M-.9,-.05L-.32,-.05A.32,.32,0,0,1,.32,-.05L.9,-.05L.9,.05L.32,.05A.32,.32,0,0,1,-.32,.05L-.9,.05Z","M-.9,-.05L-.32,-.05A.32,.32,0,0,1,.32,-.05L.9,-.05L.9,.05L.32,.05A.32,.32,0,0,1,-.32,.05L-.9,.05Z","M-.9,-.05L-.32,-.05A.32,.32,0,0,1,.32,-.05L.9,-.05L.9,.05L.32,.05A.32,.32,0,0,1,-.32,.05L-.9,.05Z","M-.9,-.05L-.32,-.05A.32,.32,0,0,1,.32,-.05L.9,-.05L.9,.05L.32,.05A.32,.32,0,0,1,-.32,.05L-.9,.05Z","M-.9,-.05L-.32,-.05A.32,.32,0,0,1,.32,-.05L.9,-.05L.9,.05L.32,.05A.32,.32,0,0,1,-.32,.05L-.9,.05Z","M-.9,-.05L-.32,-.05A.32,.32,0,0,1,.32,-.05L.9,-.05L.9,.05L.32,.05A.32,.32,0,0,1,-.32,.05L-.9,.05Z","M-.9,-.05L-.32,-.05A.32,.32,0,0,1,.32,-.05L.9,-.05L.9,.05L.32,.05A.32,.32,0,0,1,-.32,.05L-.9,.05Z","M-.45,0A.45,.45,0,1,1,.45,0A.45,.45,0,1,1,-.45,0Z","M0,.05L1.1,.9L0,.62L-1.1,.9Z","M0,.05L1.1,.9L0,.62L-1.1,.9Z"]},"legend":{}}}},
{"data":{"name":"marks"},"mark":{"type":"text","color":"#c89a2b","font":"Liberation Sans,Noto Sans CJK SC","fontWeight":"bold","fontSize":24,"align":"center","baseline":"middle"},"encoding":{"text":{"field":"t","type":"nominal"}}},
{"data":{"name":"tools"},"transform":[{"filter":"datum.tool==='区域缩放'"}],"mark":{"type":"point","filled":false,"stroke":"#B9B8CE","strokeWidth":1.6,"strokeDash":[4,3],"opacity":1,"size":729,"shape":"M-1,-1H1V1H-1ZM-.5,-.5H.5V.5H-.5Z"}},
{"data":{"name":"tools"},"transform":[{"filter":"datum.tool==='套索'"}],"mark":{"type":"point","filled":false,"stroke":"#B9B8CE","strokeWidth":1.6,"strokeDash":[4,3],"opacity":1,"size":729,"shape":"M-.7,-1L-.2,-.2L.5,-.2L.9,-1M-.7,-1L-1,-.2L0,.8M.9,-1L1,-.2L.3,.6L.4,1.2"}},
{"data":{"name":"tools"},"transform":[{"filter":"datum.tool==='横向选择'"}],"mark":{"type":"point","filled":false,"stroke":"#B9B8CE","strokeWidth":1.6,"strokeDash":[4,3],"opacity":1,"size":729,"shape":"M-.6,-1H.6M-.6,1H.6M-1,0L-.6,-.4M-1,0L-.6,.4M1,0L.6,-.4M1,0L.6,.4M-.6,-1V-.4M.6,-1V-.4M-.6,1V.4M.6,1V.4"}},
{"data":{"name":"tools"},"transform":[{"filter":"datum.tool==='纵向选择'"}],"mark":{"type":"point","filled":false,"stroke":"#B9B8CE","strokeWidth":1.6,"strokeDash":[4,3],"opacity":1,"size":729,"shape":"M-1,-.6V.6M1,-.6V.6M0,-1L-.4,-.6M0,-1L.4,-.6M0,1L-.4,.6M0,1L.4,.6M-1,-.6H-.4M1,-.6H.4M-1,.6H-.4M1,.6H.4"}},
{"data":{"name":"tools"},"transform":[{"filter":"datum.tool==='保持选择'"}],"mark":{"type":"point","filled":false,"stroke":"#B9B8CE","strokeWidth":1.6,"strokeDash":[4,3],"opacity":1,"size":729,"shape":"M-1,-.8H.9M-1,-.8V1H1V-.8M-.5,-.3H.6V.5H-.5Z"}},
{"data":{"name":"tools"},"transform":[{"filter":"datum.tool==='清除'"}],"mark":{"type":"point","filled":false,"stroke":"#B9B8CE","strokeWidth":1.6,"strokeDash":[4,3],"opacity":1,"size":729,"shape":"M-1,-1H1V1H-1ZM-.5,-.6L.5,.6M.5,-.6L-.5,.6"}}
]},
{"encoding":{"x":{"field":"i","type":"quantitative","scale":{"domain":[0,602],"range":[22,2297],"padding":0,"nice":false,"zero":false},"axis":{"orient":"bottom","offset":-207,"title":null,"values":[45,150,255,360,465,570,602],"labelExpr":"{45:'2026-08-01T23:00:00+08:00',150:'2026-08-06T08:00:00+08:00',255:'2026-08-10T17:00:00+08:00',360:'2026-08-15T02:00:00+08:00',465:'2026-08-19T11:00:00+08:00',570:'2026-08-23T20:00:00+08:00',602:''}[datum.value]","labelColor":"#8d8ca4","labelFontSize":24,"labelFont":"Liberation Sans","labelPadding":14,"labelOverlap":false,"labelLimit":500,"domainColor":"#B9B8CE","domainWidth":2,"tickColor":"#B9B8CE","tickSize":9,"grid":false}},"y":{"field":"v","type":"quantitative","axis":null,"scale":{"domain":[0,260],"range":[1191,931],"nice":false,"zero":false}}},
"layer":[
{"data":{"name":"bars"},"mark":{"type":"bar","size":3},"encoding":{"y":{"field":"v","type":"quantitative","stack":null},"color":{"condition":{"test":"datum.c>=datum.o","value":"#8a1643"},"value":"#0e7f61"}}},
{"data":{"name":"ma5"},"mark":{"type":"line","stroke":"#ffffff","strokeWidth":4,"interpolate":"monotone"},"encoding":{"y":{"field":"a","type":"quantitative"}}},
{"data":{"name":"ma60"},"mark":{"type":"line","stroke":"#ffff00","strokeWidth":5,"interpolate":"monotone"},"encoding":{"y":{"field":"b","type":"quantitative"}}}
]},
{"encoding":{"y":{"field":"s","type":"quantitative","axis":null,"scale":{"domain":[0,1000],"range":[1424,424],"nice":false,"zero":false}}},
"layer":[
{"data":{"name":"shadow"},"mark":{"type":"area","clip":true,"fill":"#221f3c","fillOpacity":1,"line":{"stroke":"#6a6880","strokeWidth":2}},"encoding":{"y2":{"datum":40}}},
{"data":{"name":"shadow"},"mark":{"type":"area","clip":true,"fill":"#221f3c","fillOpacity":1,"line":{"stroke":"#6a6880","strokeWidth":2}},"encoding":{"y":{"field":"u","type":"quantitative"},"y2":{"datum":-30}}},
{"data":{"name":"frames"},"mark":{"type":"rect","clip":true,"fill":"transparent","stroke":"#77758d","strokeWidth":2.5,"cornerRadius":7},"encoding":{"x2":{"field":"j"},"y":{"field":"s0","type":"quantitative"},"y2":{"field":"s1"}}},
{"data":{"name":"windows"},"mark":{"type":"rect","clip":true,"fill":"#87afee","fillOpacity":0.22},"encoding":{"x2":{"field":"j"},"y":{"field":"s0","type":"quantitative"},"y2":{"field":"s1"}}},
{"data":{"name":"tabs"},"mark":{"type":"rect","clip":true,"fill":"#cccccc","fillOpacity":0.22,"cornerRadius":3},"encoding":{"x2":{"field":"j"},"y":{"field":"s0","type":"quantitative"},"y2":{"field":"s1"}}}
]},
{"encoding":{"x":{"field":"i","type":"quantitative","scale":{"domain":[0,602],"range":[22,2297],"padding":0,"nice":false,"zero":false},"axis":{"orient":"bottom","offset":-58,"labels":false,"title":null,"values":[45,150,255,360,465,570,602],"domainColor":"#B9B8CE","domainWidth":2,"tickColor":"#B9B8CE","tickSize":9,"grid":false}},"y":{"field":"m","type":"quantitative","axis":null,"scale":{"domain":[-500,1250],"range":[1404.3,1181.7],"nice":false,"zero":false}}},
"layer":[
{"data":{"name":"bars"},"mark":{"type":"bar","size":5.5},"encoding":{"y":{"field":"m","type":"quantitative","stack":null},"color":{"condition":{"test":"datum.m>=0","value":"#ef232a"},"value":"#14b143"}}},
{"data":{"name":"dif"},"mark":{"type":"line","stroke":"#ffffff","strokeWidth":2,"interpolate":"monotone"},"encoding":{"y":{"field":"d","type":"quantitative"}}},
{"data":{"name":"dea"},"mark":{"type":"line","stroke":"#ffff00","strokeWidth":2.4,"interpolate":"monotone"},"encoding":{"y":{"field":"e","type":"quantitative"}}},
{"data":{"name":"lines"},"mark":{"type":"rule","strokeWidth":3},"encoding":{"x2":{"field":"j"},"stroke":{"condition":{"test":"datum.k==='r'","value":"#ff0000"},"value":"#006e14"}}},
{"data":{"name":"vals"},"mark":{"type":"text","color":"#d6d6dc","font":"Liberation Sans","fontSize":24,"align":"center","baseline":"middle"},"encoding":{"text":{"field":"t","type":"nominal"}}}
]},
{"encoding":{"y":{"field":"s","type":"quantitative","axis":null,"scale":{"domain":[0,1000],"range":[1424,424],"nice":false,"zero":false}}},
"layer":[
{"data":{"name":"handles"},"mark":{"type":"rect","clip":true,"fill":"#2f2c4a","stroke":"#b6c0d6","strokeWidth":2,"cornerRadius":5},"encoding":{"x2":{"field":"j"},"y":{"field":"s0","type":"quantitative"},"y2":{"field":"s1"}}},
{"data":{"name":"grips"},"mark":{"type":"text","color":"#eeeeee","font":"Liberation Sans","fontSize":15,"fontWeight":"bold","align":"center","baseline":"middle"},"encoding":{"text":{"field":"t","type":"nominal"}}}
]}
]}
